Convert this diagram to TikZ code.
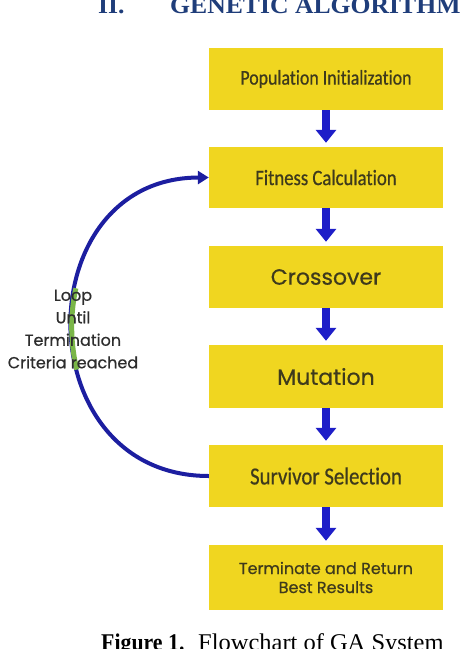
\documentclass[tikz,border=0pt]{standalone}
\usepackage{fontspec}
\usetikzlibrary{arrows.meta}
\newfontfamily\cfont[FakeStretch=0.85,FakeBold=0.6,Ligatures={NoCommon}]{Carlito}
\newfontfamily\pfont[FakeBold=0.6]{Poppins}
\newfontfamily\titlefont[FakeStretch=1.07]{Liberation Serif}
\newfontfamily\capboldfont[FakeStretch=0.91]{Liberation Serif}
\newfontfamily\capfont[FakeStretch=1.02]{Liberation Serif}
\definecolor{boxyellow}{RGB}{240,214,32}
\definecolor{boxtext}{RGB}{62,58,28}
\definecolor{arrowblue}{RGB}{30,30,200}
\definecolor{loopblue}{RGB}{28,30,160}
\definecolor{loopgreen}{RGB}{122,182,72}
\definecolor{titleblue}{RGB}{31,61,122}
\definecolor{looptext}{RGB}{45,45,45}
\begin{document}
\begin{tikzpicture}[x=1pt,y=-1pt,
  stepbox/.style={fill=boxyellow, minimum width=234pt, minimum height=62pt, inner sep=0pt, text=boxtext, align=center},
  downarrow/.style={draw=arrowblue, line width=8pt, -{Triangle[width=20pt,length=13pt]}, shorten >=4pt},
  looparrow/.style={draw=loopblue, line width=4pt, -{Triangle[width=13pt,length=11pt]}},
  greenpart/.style={draw=loopgreen, line width=5pt, dash pattern=on 0pt off 184pt on 82pt off 1000pt}
]
\useasboundingbox (0,0) rectangle (474,649);
\fill[white] (0,0) rectangle (474,649);

% title
\node[anchor=base west, inner sep=0pt, text=titleblue, font=\titlefont\bfseries\fontsize{24}{28}\selectfont] (sec) at (98,13) {II.};
\node[anchor=base west, inner sep=0pt, text=titleblue, font=\titlefont\bfseries\fontsize{24}{28}\selectfont] (title) at (170,13) {GENETIC ALGORITHM};

% boxes
\node[stepbox, font=\cfont\fontsize{21}{24}\selectfont] (pop) at (326,79) {Population Initialization};
\node[stepbox, minimum height=61pt, font=\cfont\fontsize{22}{26}\selectfont] (fit) at (326,177.5) {Fitness Calculation};
\node[stepbox, font=\pfont\fontsize{22}{26}\selectfont] (cross) at (326,277) {Crossover};
\node[stepbox, minimum height=63pt, font=\pfont\fontsize{22}{26}\selectfont] (mut) at (326,376.5) {Mutation};
\node[stepbox, font=\cfont\fontsize{24.5}{28}\selectfont] (surv) at (326,476) {Survivor Selection};
\node[stepbox, minimum height=65pt, font=\pfont\fontsize{16}{19}\selectfont] (term) at (326,577.5) {Terminate and Return\\Best Results};

% down arrows
\draw[downarrow] (pop.south) -- (fit.north);
\draw[downarrow] (fit.south) -- (cross.north);
\draw[downarrow] (cross.south) -- (mut.north);
\draw[downarrow] (mut.south) -- (surv.north);
\draw[downarrow] (surv.south) -- (term.north);

% loop
\draw[looparrow] (surv.west) .. controls (26,476) and (26,178) .. (fit.west);
\draw[greenpart] (surv.west) .. controls (26,476) and (26,178) .. (fit.west);
\node[inner sep=0pt, align=center, text=looptext, font=\pfont\fontsize{16}{22.5}\selectfont] (looplabel) at (73,329) {Loop\\Until\\Termination\\Criteria reached};

% caption
\node[anchor=base west, inner sep=0pt, text=black, font=\capboldfont\bfseries\fontsize{24}{28}\selectfont] (figlab) at (101,650) {Figure 1.};
\node[anchor=base west, inner sep=0pt, text=black, font=\capfont\fontsize{24}{28}\selectfont] (figcap) at (198,650) {Flowchart of GA System};
\end{tikzpicture}
\end{document}
